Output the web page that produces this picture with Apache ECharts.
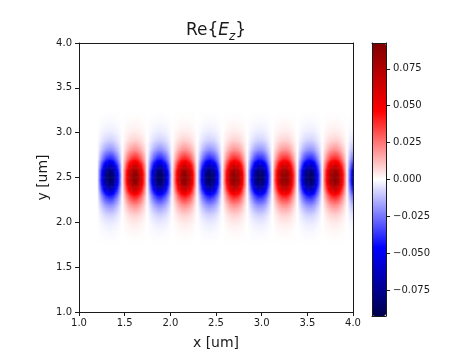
<!DOCTYPE html>
<html>
<head>
<meta charset="utf-8">
<script src="https://cdn.jsdelivr.net/npm/echarts@6/dist/echarts.min.js"></script>
<style>
html,body{margin:0;padding:0;background:#ffffff;}
#chart{width:474px;height:355px;}
</style>
</head>
<body>
<div id="chart"></div>
<script>
// ---- data ----
// field sampled on a 0.0125 um grid (cell centres) between 1.0 and 4.0 um
var axisStart = 1.0, axisEnd = 4.0, cellSize = 0.0125;
// normalised variation of Re{Ez} along x through the guide centre (y = 2.5 um)
var xProfile = [
  0,0,0,0,0,0,0,0,0,0,0,0,0,0,0,0,
  -0.03,-0.18,-0.32,-0.45,-0.57,-0.68,-0.78,-0.86,-0.93,-0.97,-0.99,-1.00,-0.98,-0.95,-0.89,-0.82,
  -0.72,-0.62,-0.50,-0.37,-0.23,-0.09,0.05,0.19,0.33,0.46,0.59,0.70,0.79,0.87,0.93,0.97,
  1.00,1.00,0.98,0.94,0.88,0.81,0.71,0.60,0.48,0.35,0.22,0.07,-0.07,-0.21,-0.35,-0.48,
  -0.60,-0.71,-0.80,-0.88,-0.94,-0.98,-1.00,-1.00,-0.98,-0.93,-0.87,-0.79,-0.70,-0.59,-0.47,-0.34,
  -0.20,-0.06,0.09,0.23,0.36,0.49,0.61,0.72,0.81,0.89,0.94,0.98,1.00,1.00,0.97,0.93,
  0.87,0.78,0.69,0.58,0.45,0.32,0.18,0.04,-0.10,-0.24,-0.38,-0.51,-0.63,-0.73,-0.82,-0.89,
  -0.95,-0.98,-1.00,-0.99,-0.97,-0.92,-0.86,-0.77,-0.67,-0.56,-0.44,-0.31,-0.17,-0.02,0.12,0.26,
  0.40,0.52,0.64,0.74,0.83,0.90,0.95,0.99,1.00,0.99,0.96,0.91,0.85,0.76,0.66,0.55,
  0.42,0.29,0.15,0.01,-0.14,-0.28,-0.41,-0.54,-0.65,-0.76,-0.84,-0.91,-0.96,-0.99,-1.00,-0.99,
  -0.96,-0.91,-0.84,-0.75,-0.65,-0.53,-0.41,-0.27,-0.13,0.01,0.15,0.29,0.43,0.55,0.67,0.77,
  0.85,0.92,0.96,0.99,1.00,0.99,0.95,0.90,0.83,0.74,0.64,0.52,0.39,0.26,0.11,-0.03,
  -0.17,-0.31,-0.44,-0.57,-0.68,-0.78,-0.86,-0.92,-0.97,-0.99,-1.00,-0.98,-0.95,-0.89,-0.82,-0.73,
  -0.62,-0.50,-0.38,-0.24,-0.10,0.05,0.19,0.33,0.46,0.58,0.69,0.79,0.87,0.93,0.97,1.00,
  1.00,0.98,0.94,0.88,0.81,0.72,0.61,0.49,0.36,0.22,0.08,-0.06,-0.21,-0.34,-0.47,-0.60
];
// normalised transverse profile, from the guide centre (y = 2.5 um) outwards, symmetric
var yCentre = 2.5;
var yHalfProfile = [
  1.00,0.995,0.985,0.97,0.95,0.925,0.895,0.86,0.82,0.78,
  0.735,0.69,0.645,0.60,0.555,0.515,0.475,0.44,0.405,0.375,
  0.345,0.315,0.29,0.265,0.24,0.22,0.20,0.18,0.165,0.15,
  0.135,0.12,0.107,0.096,0.086,0.077,0.069,0.062,0.055,0.049,
  0.044,0.039,0.034,0.030,0.027,0.024,0.021,0.018,0.016,0.014,
  0.012,0.010,0.008,0.007,0.006,0.005,0.004,0.003,0.002,0.001
];
var amplitude = 0.088;
var colorMin = -0.0925, colorMax = 0.0925;
var colorbarTicks = [-0.075, -0.050, -0.025, 0.000, 0.025, 0.050, 0.075];
var seismic = ['#00004d', '#0000ff', '#ffffff', '#ff0000', '#800000'];

// ---- build the heatmap table ----
var nCells = Math.round((axisEnd - axisStart) / cellSize);
var cats = [];
for (var i = 0; i < nCells; i++) cats.push((axisStart + cellSize * (i + 0.5)).toFixed(5));
var yProfile = yHalfProfile.slice().reverse().concat(yHalfProfile);
var rowOffset = Math.round((yCentre - axisStart) / cellSize) - yHalfProfile.length;
var data = [];
for (var j = 0; j < yProfile.length; j++) {
  for (var k = 0; k < xProfile.length; k++) {
    var v = amplitude * xProfile[k] * yProfile[j];
    if (v !== 0) data.push([k, rowOffset + j, v]);
  }
}

var txt = '#1a1a1a';
var lineStyle = {color: '#1a1a1a', width: 1};
var font = 'DejaVu Sans';
function fmtMinus(v) { return v.toFixed(3).replace('-', '\u2212'); }
function plainAxis(grid, pos, mn, mx, z) {
  return {type: 'value', gridIndex: grid, position: pos, min: mn, max: mx,
    axisLine: {show: true, onZero: false, lineStyle: lineStyle}, axisTick: {show: false},
    axisLabel: {show: false}, splitLine: {show: false}, z: z};
}

var chart = echarts.init(document.getElementById('chart'), null, {renderer: 'canvas'});
chart.setOption({
  backgroundColor: '#ffffff',
  animation: false,
  title: {
    text: '{a|Re\{}{b|E}{c|z}{a|\u007d}',
    left: 216, top: 19, padding: 0, textAlign: 'center',
    textStyle: {
      fontFamily: font, fontSize: 17, fontWeight: 'normal', color: txt,
      rich: {
        a: {fontFamily: font, fontSize: 17, fontWeight: 'normal', color: txt, lineHeight: 24},
        b: {fontFamily: font, fontSize: 17, fontWeight: 'normal', fontStyle: 'italic', color: txt, lineHeight: 24},
        c: {fontFamily: font, fontSize: 12, fontWeight: 'normal', fontStyle: 'italic', color: txt, lineHeight: 12, verticalAlign: 'bottom'}
      }
    }
  },
  grid: [
    {left: 79, top: 43, width: 274, height: 273, containLabel: false},
    {left: 372, top: 43, width: 14, height: 273, containLabel: false}
  ],
  xAxis: [
    {type: 'category', gridIndex: 0, data: cats, show: false},
    {type: 'value', gridIndex: 0, position: 'bottom', min: 1, max: 4, interval: 0.5,
     axisLine: {show: true, onZero: false, lineStyle: lineStyle}, axisTick: {show: true, length: 4, lineStyle: lineStyle},
     axisLabel: {fontFamily: font, fontSize: 10, color: txt, margin: 6, formatter: function(v){return v.toFixed(1);}},
     splitLine: {show: false},
     name: 'x [um]', nameLocation: 'middle', nameGap: 24, nameMoveOverlap: false,
     nameTextStyle: {fontFamily: font, fontSize: 14, color: txt}, z: 5},
    plainAxis(0, 'top', 1, 4, 5),
    plainAxis(1, 'bottom', 0, 1, 10),
    plainAxis(1, 'top', 0, 1, 10)
  ],
  yAxis: [
    {type: 'category', gridIndex: 0, data: cats, show: false},
    {type: 'value', gridIndex: 0, position: 'left', min: 1, max: 4, interval: 0.5,
     axisLine: {show: true, onZero: false, lineStyle: lineStyle}, axisTick: {show: true, length: 4, lineStyle: lineStyle},
     axisLabel: {fontFamily: font, fontSize: 10, color: txt, margin: 7, formatter: function(v){return v.toFixed(1);}},
     splitLine: {show: false},
     name: 'y [um]', nameLocation: 'middle', nameGap: 29, nameRotate: 90, nameMoveOverlap: false,
     nameTextStyle: {fontFamily: font, fontSize: 14, color: txt}, z: 5},
    plainAxis(0, 'right', 1, 4, 5),
    {type: 'value', gridIndex: 1, position: 'right', min: colorMin, max: colorMax,
     axisLine: {show: true, onZero: false, lineStyle: lineStyle},
     axisTick: {show: true, length: 4, lineStyle: lineStyle, customValues: colorbarTicks},
     axisLabel: {fontFamily: font, fontSize: 10, color: txt, margin: 7, customValues: colorbarTicks, formatter: fmtMinus},
     splitLine: {show: false}, z: 10},
    plainAxis(1, 'left', colorMin, colorMax, 10)
  ],
  visualMap: {
    type: 'continuous', seriesIndex: 0, min: colorMin, max: colorMax,
    left: 372, top: 43, itemWidth: 14, itemHeight: 273, padding: 0,
    calculable: false, realtime: false, hoverLink: false, text: null, showLabel: false,
    inRange: {color: seismic}, z: 1
  },
  series: [{
    type: 'heatmap', xAxisIndex: 0, yAxisIndex: 0, data: data,
    progressive: 0, emphasis: {disabled: true}, itemStyle: {borderWidth: 0}, silent: true
  }]
});
</script>
</body>
</html>
